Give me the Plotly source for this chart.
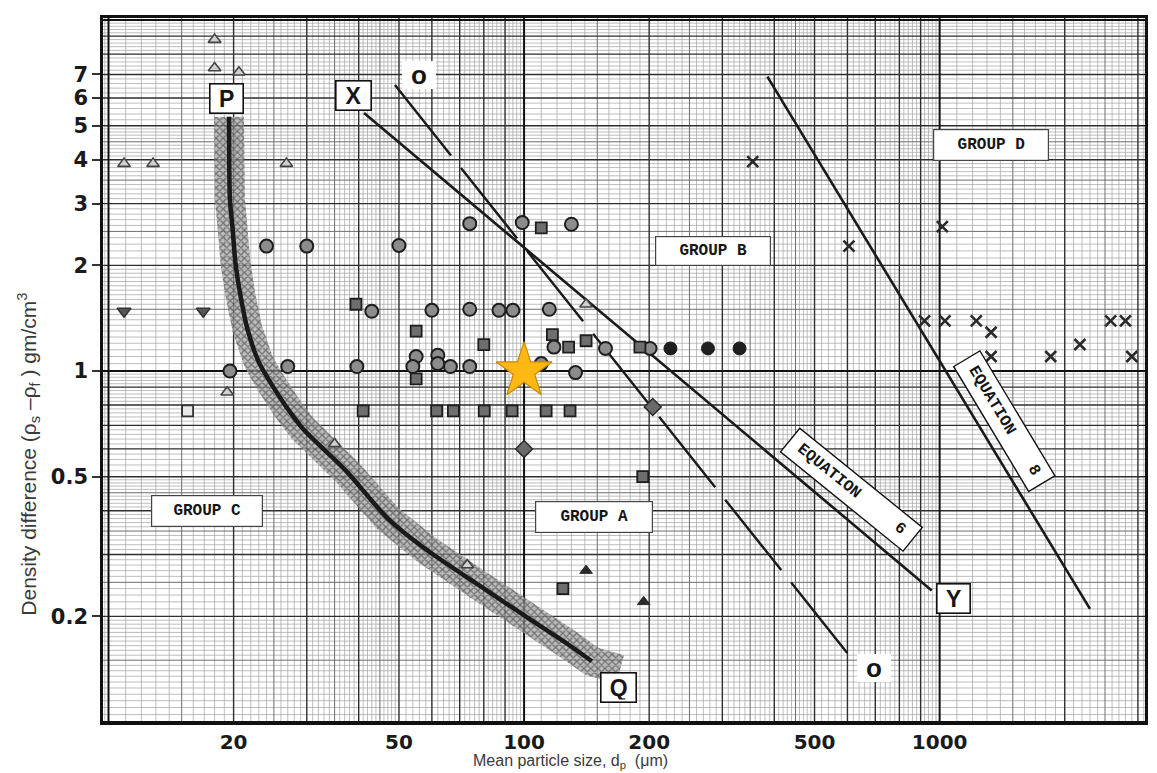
import numpy as np
import plotly.graph_objects as go

# ---------------- data ----------------
# half-filled circles
circle_d = [24, 30, 50, 74, 99, 130, 43, 60, 74, 87, 94, 115, 118, 55, 62,
            39.6, 54, 62, 66.5, 74, 110, 133, 27, 19.6, 157, 201]
circle_rho = [2.27, 2.27, 2.28, 2.63, 2.65, 2.62, 1.48, 1.49, 1.5, 1.49, 1.49, 1.5, 1.17, 1.1, 1.11,
              1.03, 1.03, 1.05, 1.03, 1.03, 1.05, 0.99, 1.03, 1.0, 1.16, 1.16]
# solid dark circles
dot_d = [225, 277, 330]
dot_rho = [1.16, 1.16, 1.16]
# shaded squares
square_d = [39.4, 110, 55, 80, 117, 128, 141, 190, 55, 41, 61.6, 67.6, 80.2, 93.6, 113, 129, 193, 124]
square_rho = [1.55, 2.56, 1.3, 1.19, 1.27, 1.17, 1.22, 1.17, 0.95, 0.77, 0.77, 0.77, 0.77, 0.77,
              0.77, 0.77, 0.5, 0.24]
# open square
osq_d = [15.5]
osq_rho = [0.77]
# open triangles
tri_d = [18, 18, 20.6, 10.9, 12.8, 26.8, 19.3, 35, 73, 141]
tri_rho = [8.8, 7.3, 7.1, 3.9, 3.9, 3.9, 0.87, 0.62, 0.28, 1.55]
# filled triangles
ftri_d = [141, 194]
ftri_rho = [0.27, 0.22]
# downward triangles
dtri_d = [10.9, 16.9]
dtri_rho = [1.48, 1.48]
# crosses (group D)
cross_d = [355, 605, 1015, 920, 1030, 1225, 1330, 1330, 1850, 2175, 2580, 2800, 2900]
cross_rho = [3.95, 2.27, 2.58, 1.39, 1.39, 1.39, 1.29, 1.1, 1.1, 1.19, 1.39, 1.39, 1.1]
# diamonds
dia_d = [100, 204]
dia_rho = [0.6, 0.79]
# highlighted point
star_d = [100]
star_rho = [1.0]

# boundary lines
xy_d = [41.2, 957]          # X - Y  (equation 6)
xy_rho = [5.44, 0.237]
oo_d = [48.9, 633]          # O - O  (dashed)
oo_rho = [6.53, 0.145]
eq8_d = [385, 2300]         # equation 8 (B/D)
eq8_rho = [6.9, 0.21]
# P - Q boundary (A/C)
pq_d = [19.5, 19.6, 19.9, 20.2, 20.8, 21.6, 23.0, 24.5, 27.0, 29.4, 32.9, 37.5, 47, 58.6, 78,
        102.8, 128, 145.5]
pq_rho = [5.3, 3.08, 2.53, 2.04, 1.63, 1.316, 1.06, 0.93, 0.78, 0.684, 0.6, 0.516, 0.38, 0.308,
          0.245, 0.197, 0.166, 0.149]
band_end_d = [170]
band_end_rho = [0.141]

x_ticks = [20, 50, 100, 200, 500, 1000]
y_ticks = [0.2, 0.5, 1, 2, 3, 4, 5, 6, 7]

# ---------------- layout constants ----------------
W, H = 1157, 773
ML, MR, MT, MB = 103, 9, 18, 51
PH = H - MT - MB
X_RANGE = [np.log10(9.7), np.log10(3120)]
Y_RANGE = [-1.0, 1.006]
PX_PER_DEC_X = (W - ML - MR) / (X_RANGE[1] - X_RANGE[0])
PX_PER_DEC_Y = PH / (Y_RANGE[1] - Y_RANGE[0])

fig = go.Figure()

# ---------------- graph paper grid ----------------
def add_lines(vals, vertical, color, width):
    xs, ys = [], []
    for v in vals:
        if vertical:
            xs += [v, v, None]; ys += [0.05, 20, None]
        else:
            xs += [5, 5000, None]; ys += [v, v, None]
    fig.add_trace(go.Scatter(x=xs, y=ys, mode="lines", line=dict(color=color, width=width),
                             hoverinfo="skip", showlegend=False))

def paper_vals(decades, steps):
    fine, mid, major, dec = [], [], [], []
    for e in decades:
        base = 10.0 ** e
        m = 1.0
        while m < 10 - 1e-9:
            if abs(m - 1) < 1e-9:
                dec.append(base)
            elif abs(m - round(m)) < 1e-9:
                major.append(m * base)
            elif abs(abs(m - round(m)) - 0.5) < 1e-9:
                mid.append(m * base)
            else:
                fine.append(m * base)
            st = steps[0] if m < 2 - 1e-9 else (steps[1] if m < 5 - 1e-9 else steps[2])
            m = round(m + st, 4)
    return fine, mid, major, dec

xf, xm, xM, xD = paper_vals([0, 1, 2, 3], (0.1, 0.1, 0.2))
yf, ym, yM, yD = paper_vals([-1, 0, 1], (0.05, 0.1, 0.2))
add_lines(xf, True, "#a2a2a2", 0.7)
add_lines(yf, False, "#a2a2a2", 0.7)
add_lines(xm, True, "#6e6e6e", 1.0)
add_lines(ym, False, "#6e6e6e", 1.0)
add_lines(xM, True, "#2e2e2e", 1.4)
add_lines(yM, False, "#2e2e2e", 1.4)
add_lines(xD, True, "#111111", 2.0)
add_lines(yD, False, "#111111", 2.0)

# ---------------- P-Q band ----------------
def offset_curve(d, r, half_px):
    X = np.log10(d) * PX_PER_DEC_X
    Y = np.log10(r) * PX_PER_DEC_Y
    n = len(X)
    nx, ny = np.zeros(n), np.zeros(n)
    for i in range(n):
        a, b = max(i - 1, 0), min(i + 1, n - 1)
        tx, ty = X[b] - X[a], Y[b] - Y[a]
        L = np.hypot(tx, ty)
        nx[i], ny[i] = -ty / L, tx / L
    up = (X + half_px * nx, Y + half_px * ny)
    dn = (X - half_px * nx, Y - half_px * ny)
    px = np.concatenate([up[0], dn[0][::-1], up[0][:1]])
    py = np.concatenate([up[1], dn[1][::-1], up[1][:1]])
    return 10 ** (px / PX_PER_DEC_X), 10 ** (py / PX_PER_DEC_Y)

bd = np.array(pq_d + band_end_d, float)
br = np.array(pq_rho + band_end_rho, float)
bx, by = offset_curve(bd, br, 15)
fig.add_trace(go.Scatter(x=bx, y=by, mode="lines", fill="toself", line=dict(width=0),
                         fillcolor="rgba(140,140,140,0.6)",
                         fillpattern=dict(shape="x", fgcolor="#2a2a2a", bgcolor="rgba(165,165,165,0.7)",
                                          size=5, solidity=0.45),
                         hoverinfo="skip", showlegend=False))
fig.add_trace(go.Scatter(x=pq_d, y=pq_rho, mode="lines", line=dict(color="#1a1a1a", width=4.5, shape="spline",
                                                                  smoothing=0.8),
                         hoverinfo="skip", showlegend=False))

# ---------------- boundary lines ----------------
fig.add_trace(go.Scatter(x=xy_d, y=xy_rho, mode="lines", line=dict(color="#1a1a1a", width=2.6),
                         hoverinfo="skip", showlegend=False))
fig.add_trace(go.Scatter(x=oo_d, y=oo_rho, mode="lines", line=dict(color="#1a1a1a", width=2.4, dash="90px,16px"),
                         hoverinfo="skip", showlegend=False))
fig.add_trace(go.Scatter(x=eq8_d, y=eq8_rho, mode="lines", line=dict(color="#1a1a1a", width=2.6),
                         hoverinfo="skip", showlegend=False))

# ---------------- data points ----------------
def pts(x, y, symbol, size, fill, line_color, line_w=1.5):
    fig.add_trace(go.Scatter(x=x, y=y, mode="markers",
                             marker=dict(symbol=symbol, size=size, color=fill,
                                         line=dict(color=line_color, width=line_w)),
                             hoverinfo="skip", showlegend=False))

pts(circle_d, circle_rho, "circle", 13, "#8c8c8c", "#1e1e1e", 2)
pts(dot_d, dot_rho, "circle", 13, "#1e1e1e", "#1e1e1e", 1)
pts(square_d, square_rho, "square", 11, "#6e6e6e", "#1e1e1e", 1.8)
pts(osq_d, osq_rho, "square", 11, "#e8e8e8", "#333333", 1.8)
pts(tri_d, tri_rho, "triangle-up", 11, "#d0d0d0", "#444444", 1.6)
pts(ftri_d, ftri_rho, "triangle-up", 11, "#2a2a2a", "#2a2a2a", 1)
pts(dtri_d, dtri_rho, "triangle-down", 12, "#555555", "#333333", 1.4)
pts(cross_d, cross_rho, "x-thin-open", 11, "#2a2a2a", "#2a2a2a", 2.6)
pts(dia_d, dia_rho, "diamond", 13, "#6a6a6a", "#2a2a2a", 1.5)
pts(star_d, star_rho, "star", 42, "#FDB813", "#C98A00", 1.2)

# ---------------- labels ----------------
ann = []

def box(x, y, text, size, family, bw=1.6, angle=0, w=None, h=None, border="#111", pad=2):
    d = dict(x=x, y=y, xref="x", yref="y", text=text, showarrow=False,
             font=dict(family=family, size=size, color="#151515"),
             bgcolor="white", bordercolor=border, borderwidth=bw, borderpad=pad,
             textangle=angle, xanchor="center", yanchor="middle")
    if w: d["width"] = w
    if h: d["height"] = h
    ann.append(d)

SANS = "Liberation Sans"
MONO = "Liberation Mono"
box(1.2847, 0.778, "<b>P</b>", 23, SANS, w=28, h=24)
box(1.5885, 0.784, "<b>X</b>", 23, SANS, w=30, h=24)
box(3.0335, -0.648, "<b>Y</b>", 23, SANS, w=28, h=24)
box(2.227, -0.903, "<b>Q</b>", 23, SANS, w=30, h=24)
box(1.7464, 0.844, "<b>o</b>", 26, SANS, bw=0, w=30, h=24)
box(2.842, -0.847, "<b>o</b>", 26, SANS, bw=0, w=30, h=24)
box(3.124, 0.645, "<b>GROUP D</b>", 16, MONO, bw=1.2, w=110, h=26, border="#444")
box(2.4545, 0.341, "<b>GROUP B</b>", 16, MONO, bw=1.2, w=110, h=24, border="#444")
box(1.237, -0.398, "<b>GROUP C</b>", 16, MONO, bw=1.2, w=106, h=26, border="#444")
box(2.1675, -0.415, "<b>GROUP A</b>", 16, MONO, bw=1.2, w=112, h=26, border="#444")
box(2.789, -0.338, "<b>EQUATION&nbsp;&nbsp;&nbsp;&nbsp;&nbsp;6</b>", 16, MONO, bw=1.4, angle=39, w=152, h=25)
box(3.1555, -0.142, "<b>EQUATION&nbsp;&nbsp;&nbsp;&nbsp;8</b>", 16, MONO, bw=1.4, angle=59, w=140, h=25)

ann.append(dict(x=(28 - ML) / (W - ML - MR), y=0.38, xref="paper", yref="paper",
                text="Density difference (\u03c1<sub>s</sub> \u2013\u03c1<sub>f</sub> ) gm/cm<sup>3</sup>",
                textangle=-90, showarrow=False, xanchor="center", yanchor="middle",
                font=dict(family=SANS, size=21, color="#3a3a3a")))
ann.append(dict(x=(572 - ML) / (W - ML - MR), y=-(MB - 1) / PH,
                xref="paper", yref="paper", borderpad=0,
                text="Mean particle size, d<sub>p</sub>  (\u03bcm)", showarrow=False,
                xanchor="center", yanchor="bottom",
                font=dict(family=SANS, size=16, color="#3a3a3a")))

fig.update_layout(
    width=W, height=H,
    margin=dict(l=ML, r=MR, t=MT, b=MB),
    paper_bgcolor="white", plot_bgcolor="white",
    showlegend=False,
    annotations=ann,
    xaxis=dict(type="log", range=X_RANGE, showgrid=False, zeroline=False,
               showline=True, mirror=True, linecolor="#111", linewidth=2.5,
               tickvals=x_ticks, ticktext=[f"<b>{v}</b>" for v in x_ticks],
               ticks="", tickfont=dict(family="DejaVu Sans", size=20, color="#1a1a1a")),
    yaxis=dict(type="log", range=Y_RANGE, showgrid=False, zeroline=False,
               showline=True, mirror=True, linecolor="#111", linewidth=2.5,
               tickvals=y_ticks, ticktext=[f"<b>{v}</b>" for v in y_ticks],
               ticks="outside", ticklen=8, tickwidth=1.5, tickcolor="#333",
               tickfont=dict(family="DejaVu Sans", size=21, color="#1a1a1a")),
)

fig.write_html("out.html", config={"displayModeBar": False},
               post_script="document.body.style.margin='0';document.body.style.overflow='hidden';")
